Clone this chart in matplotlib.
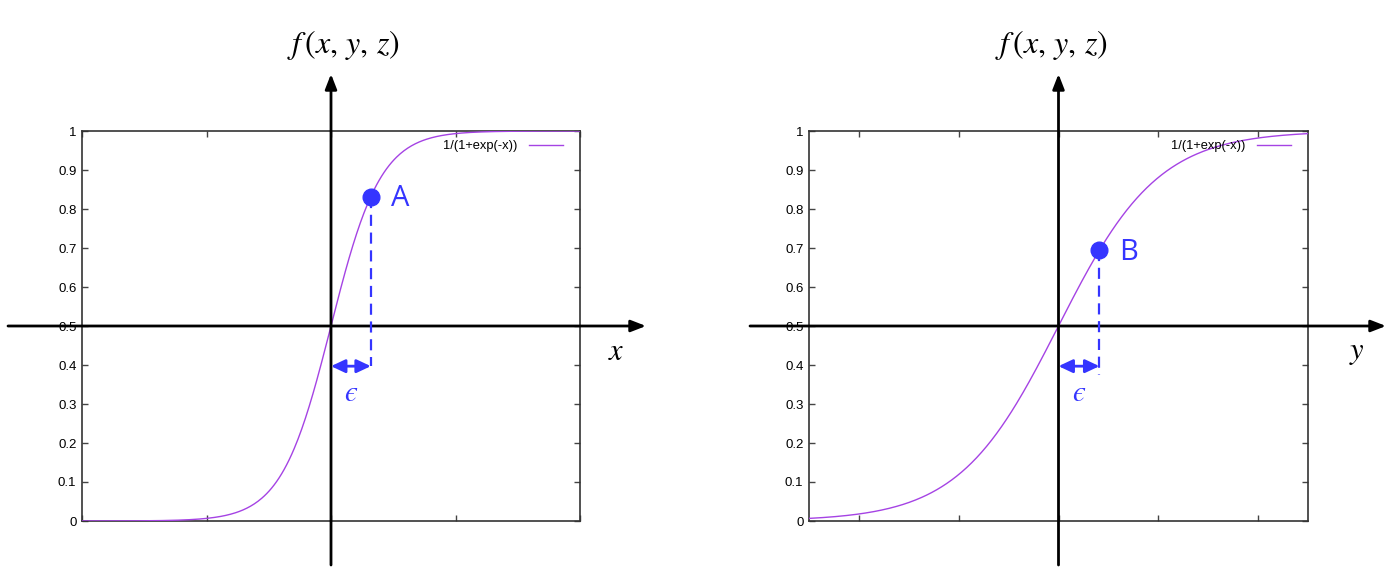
import matplotlib
matplotlib.use('Agg')
import matplotlib.pyplot as plt
import numpy as np

plt.rcParams.update({
    'font.family': ['Liberation Sans', 'DejaVu Sans'],
    'mathtext.fontset': 'stix',
})

CURVE_COLOR = '#a543e4'
MARK_COLOR = '#3535ff'

# panel settings: x range, tick positions, marked point, label, axis name
x_ranges = [(-10, 10), (-5, 5)]
x_ticks = [[-10, -5, 0, 5, 10], [-4, -2, 0, 2, 4]]
y_ticks = [0, 0.1, 0.2, 0.3, 0.4, 0.5, 0.6, 0.7, 0.8, 0.9, 1]
y_ticklabels = ['0', '0.1', '0.2', '0.3', '0.4', '0.5', '0.6', '0.7', '0.8', '0.9', '1']
point_x = [1.6, 0.82]
point_names = ['A', 'B']
axis_names = ['x', 'y']
dash_bottom = [0.397, 0.374]
eps_y = 0.397
legend_label = '1/(1+exp(-x))'

W, H = 1397, 587
fig = plt.figure(figsize=(W / 100, H / 100), dpi=100)

# axes boxes in pixels (left, top, right, bottom)
boxes = [(82, 131, 580, 521), (809, 131, 1308, 521)]
# outer arrow axes in pixels: horizontal from/to, vertical bottom/top
harrow = [(8, 646), (750, 1386)]
varrow = (565, 74)
title_pos = [(344, 45), (1052, 45)]
name_pos = [(616, 352), (1357, 352)]


def sigmoid(v):
    return 1.0 / (1.0 + np.exp(-v))


for i in range(2):
    l, t, r, b = boxes[i]
    ax = fig.add_axes([l / W, 1 - b / H, (r - l) / W, (b - t) / H])
    x0, x1 = x_ranges[i]
    xs = np.linspace(x0, x1, 400)
    ax.plot(xs, sigmoid(xs), color=CURVE_COLOR, lw=1.0, label=legend_label, zorder=3)
    ax.set_xlim(x0, x1)
    ax.set_ylim(0, 1)
    ax.set_xticks(x_ticks[i])
    ax.set_xticklabels([])
    ax.set_yticks(y_ticks)
    ax.set_yticklabels(y_ticklabels)
    ax.tick_params(direction='in', top=True, right=True, length=4, width=1,
                   color='#444444', labelsize=9.5, pad=4)
    for s in ax.spines.values():
        s.set_color('#333333')
        s.set_linewidth(1.2)
    ax.legend(loc='upper right', markerfirst=False, frameon=False, fontsize=9.3,
              handlelength=2.7, handletextpad=0.9, borderaxespad=0.3,
              bbox_to_anchor=(0.985, 1.0))

    # pixel -> data helpers
    sx = (x1 - x0) / (r - l)
    cx = l + (0 - x0) / sx
    def dx(p):
        return (p - cx) * sx
    def dy(p):
        return (b - p) / (b - t)

    # crossing axes with arrows
    ax.annotate('', xy=(dx(harrow[i][1]), 0.5), xytext=(dx(harrow[i][0]), 0.5),
                arrowprops=dict(arrowstyle='-|>,head_length=0.9,head_width=0.35',
                                color='black', lw=2, shrinkA=0, shrinkB=0),
                annotation_clip=False, zorder=5)
    ax.annotate('', xy=(0, dy(varrow[1])), xytext=(0, dy(varrow[0])),
                arrowprops=dict(arrowstyle='-|>,head_length=0.9,head_width=0.35',
                                color='black', lw=2, shrinkA=0, shrinkB=0),
                annotation_clip=False, zorder=5)

    # marked point, dashed drop line, epsilon arrow
    px = point_x[i]
    py = sigmoid(px)
    ax.plot([px, px], [py, dash_bottom[i]], color=MARK_COLOR, lw=1.6,
            ls=(0, (5, 3)), clip_on=False, zorder=6)
    ax.plot(px, py, 'o', color=MARK_COLOR, ms=12, clip_on=False, zorder=7)
    ax.text(px + dx(cx + 29), py - 0.005, point_names[i], color=MARK_COLOR, fontsize=21,
            family=['Open Sans', 'DejaVu Sans'], va='center', ha='center', zorder=7)
    ax.annotate('', xy=(px, eps_y), xytext=(0, eps_y),
                arrowprops=dict(arrowstyle='<|-|>,head_length=0.85,head_width=0.4',
                                color=MARK_COLOR, lw=2, shrinkA=0, shrinkB=0),
                annotation_clip=False, zorder=6)
    ax.text(px / 2, dy(393), '$\u03f5$', color=MARK_COLOR, fontsize=21,
            ha='center', va='center', zorder=6)

    fig.text(title_pos[i][0] / W, 1 - title_pos[i][1] / H, r'$f\,(x,\,y,\,z)$',
             fontsize=23, ha='center', va='center')
    fig.text(name_pos[i][0] / W, 1 - name_pos[i][1] / H, '$' + axis_names[i] + '$',
             fontsize=22, ha='center', va='center')

fig.savefig('out.png', dpi=100, facecolor='white')
